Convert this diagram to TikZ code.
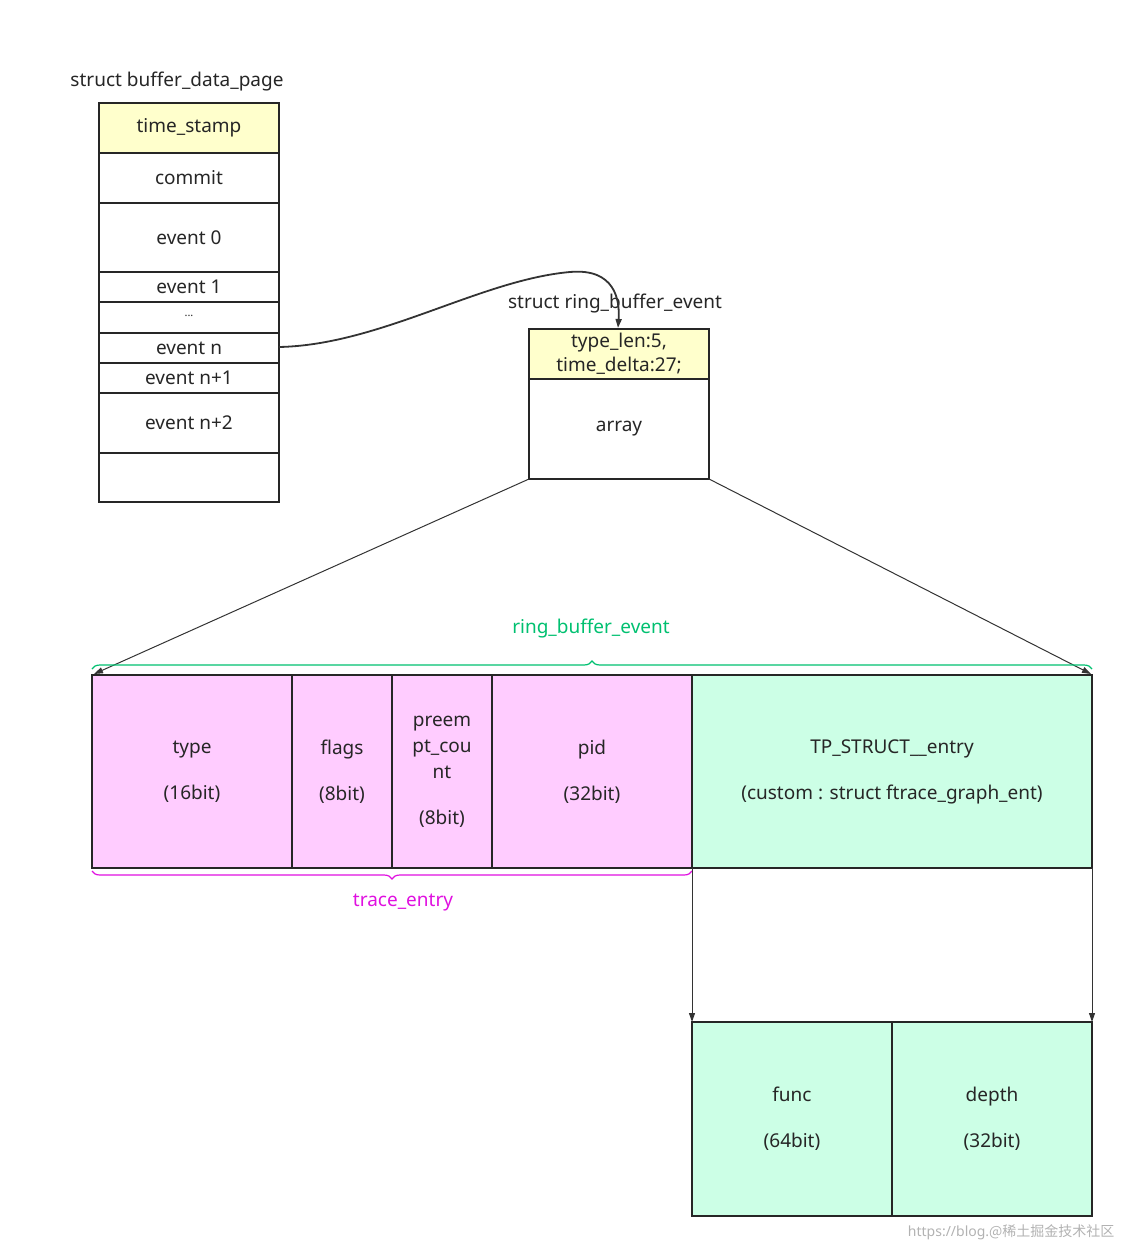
\documentclass[tikz,border=0pt]{standalone}
\usepackage{fontspec}
\setmainfont{Noto Sans}
\newfontfamily\cjk{Noto Sans CJK SC}
\usetikzlibrary{decorations.pathreplacing,arrows.meta}
\definecolor{yel}{HTML}{FFFFCC}
\definecolor{pink}{HTML}{FFCCFF}
\definecolor{mint}{HTML}{CCFFE6}
\definecolor{grn}{HTML}{00C070}
\definecolor{mag}{HTML}{E010E0}
\begin{document}
\begin{tikzpicture}[x=1pt,y=-1pt,
  cell/.style={draw=black!85,line width=1.2pt,align=center,inner sep=0pt},
  txt/.style={font=\fontsize{19}{26}\selectfont,text=black!85},
  arr/.style={draw=black!80,line width=1pt,-{Triangle[length=9pt,width=6pt]}}]
\useasboundingbox (0,0) rectangle (1124,1249);
\node[txt] (t1) at (177,82) {struct buffer\_data\_page};
\def\cellr#1#2#3#4#5#6{\draw[cell,fill=#5] (#1,#2) rectangle (#3,#4); \node[txt,align=center] at ({(#1+#3)/2},{(#2+#4)/2}) {#6};}
\cellr{99}{103}{279}{153}{yel}{time\_stamp}
\cellr{99}{153}{279}{203}{white}{commit}
\cellr{99}{203}{279}{272}{white}{event 0}
\cellr{99}{272}{279}{302}{white}{event 1}
\cellr{99}{302}{279}{333}{white}{\raisebox{3pt}{\fontsize{11}{12}\selectfont ...}}
\cellr{99}{333}{279}{363}{white}{event n}
\cellr{99}{363}{279}{393}{white}{event n+1}
\cellr{99}{393}{279}{453}{white}{event n+2}
\cellr{99}{453}{279}{502}{white}{}
\node[txt] (t2) at (615,304) {struct ring\_buffer\_event};
\cellr{529}{329}{709}{379}{yel}{\fontsize{19}{24}\selectfont type\_len:5,\\[-2pt]time\_delta:27;}
\cellr{529}{379}{709}{479}{white}{array}
\coordinate (en) at (279,347);
\coordinate (tl) at (618,328);
\draw[arr,line width=1.8pt] (en) .. controls (380,345) and (480,280) .. (570,272) .. controls (615,268) and (620,300) .. (tl);
\coordinate (al) at (529,479); \coordinate (ar) at (709,479);
\coordinate (a1) at (94,674); \coordinate (a2) at (1091,674);
\draw[arr] (al) -- (a1);
\draw[arr] (ar) -- (a2);
\draw[grn,line width=1.2pt,decorate,decoration={brace,amplitude=8pt}] (92,669) -- (1092,669);
\node[txt,text=grn] at (591,629) {ring\_buffer\_event};
\cellr{92}{675}{292}{868}{pink}{type\\[20pt](16bit)}
\cellr{292}{675}{392}{868}{pink}{flags\\[20pt](8bit)}
\cellr{392}{675}{492}{868}{pink}{preem\\pt\_cou\\nt\\[20pt](8bit)}
\cellr{492}{675}{692}{868}{pink}{pid\\[20pt](32bit)}
\cellr{692}{675}{1092}{868}{mint}{TP\_STRUCT\_\_entry\\[20pt](custom : struct ftrace\_graph\_ent)}
\draw[mag,line width=1.2pt,decorate,decoration={brace,amplitude=8pt,mirror}] (92,871) -- (692,871);
\node[txt,text=mag] at (403,903) {trace\_entry};
\coordinate (b1) at (692,868); \coordinate (b2) at (1092,868);
\coordinate (c1) at (692,1022); \coordinate (c2) at (1092,1022);
\draw[arr] (b1) -- (c1);
\draw[arr] (b2) -- (c2);
\cellr{692}{1022}{892}{1216}{mint}{func\\[20pt](64bit)}
\cellr{892}{1022}{1092}{1216}{mint}{depth\\[20pt](32bit)}
\node[text=black!30,font=\fontsize{14}{16}\selectfont,anchor=east] at (1118,1232) {https://blog.\cjk @稀土掘金技术社区};
\end{tikzpicture}
\end{document}
